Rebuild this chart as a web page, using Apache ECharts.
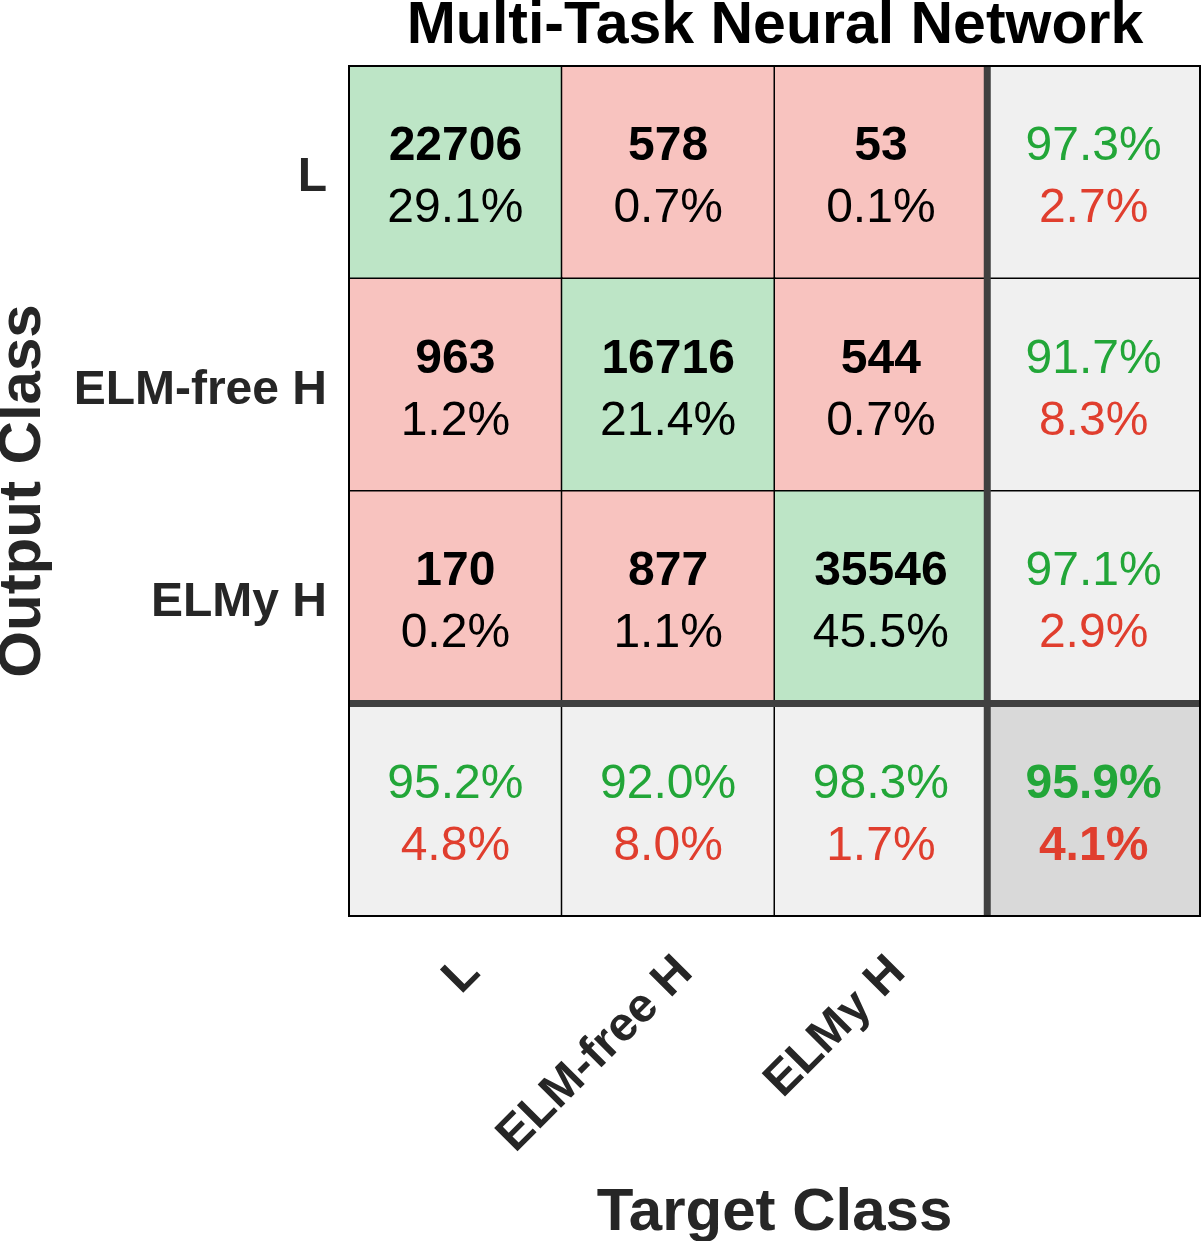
<!DOCTYPE html>
<html>
<head>
<meta charset="utf-8">
<script src="https://cdn.jsdelivr.net/npm/echarts@6/dist/echarts.min.js"></script>
<style>
  html, body { margin: 0; padding: 0; background: #fff; }
  #chart { width: 1201px; height: 1241px; }
</style>
</head>
<body>
<div id="chart"></div>
<script>
(function () {

    var classes = ['L', 'ELM-free H', 'ELMy H'];
    // rows = output class, columns = target class
    var counts = [
        [22706, 578, 53],
        [963, 16716, 544],
        [170, 877, 35546]
    ];
    var cellPct = [
        [29.1, 0.7, 0.1],
        [1.2, 21.4, 0.7],
        [0.2, 1.1, 45.5]
    ];
    var rowCorrect = [97.3, 91.7, 97.1];
    var rowWrong = [2.7, 8.3, 2.9];
    var colCorrect = [95.2, 92.0, 98.3];
    var colWrong = [4.8, 8.0, 1.7];
    var totalCorrect = 95.9;
    var totalWrong = 4.1;

    var GREEN_BG = '#bde5c6', RED_BG = '#f8c3bf', GRAY_BG = '#f0f0f0', DARK_BG = '#d9d9d9';
    var GREEN_TX = '#22a638', RED_TX = '#e03e2e';
    var FONT = 'Liberation Sans, Arial, sans-serif';

    var rich = {
        b: { fontFamily: FONT, fontSize: 48, fontWeight: 'bold', color: '#000', lineHeight: 62 },
        n: { fontFamily: FONT, fontSize: 48, color: '#000', lineHeight: 62 },
        g: { fontFamily: FONT, fontSize: 48, color: GREEN_TX, lineHeight: 62 },
        r: { fontFamily: FONT, fontSize: 48, color: RED_TX, lineHeight: 62 },
        gb: { fontFamily: FONT, fontSize: 48, fontWeight: 'bold', color: GREEN_TX, lineHeight: 62 },
        rb: { fontFamily: FONT, fontSize: 48, fontWeight: 'bold', color: RED_TX, lineHeight: 62 }
    };

    var data = [];
    for (var i = 0; i < 3; i++) {
        for (var j = 0; j < 3; j++) {
            data.push({
                value: [j, i, counts[i][j]],
                itemStyle: { color: i === j ? GREEN_BG : RED_BG },
                label: { formatter: '{b|' + counts[i][j] + '}\n{n|' + cellPct[i][j].toFixed(1) + '%}' }
            });
        }
        data.push({
            value: [3, i, rowCorrect[i]],
            itemStyle: { color: GRAY_BG },
            label: { formatter: '{g|' + rowCorrect[i].toFixed(1) + '%}\n{r|' + rowWrong[i].toFixed(1) + '%}' }
        });
    }
    for (var k = 0; k < 3; k++) {
        data.push({
            value: [k, 3, colCorrect[k]],
            itemStyle: { color: GRAY_BG },
            label: { formatter: '{g|' + colCorrect[k].toFixed(1) + '%}\n{r|' + colWrong[k].toFixed(1) + '%}' }
        });
    }
    data.push({
        value: [3, 3, totalCorrect],
        itemStyle: { color: DARK_BG },
        label: { formatter: '{gb|' + totalCorrect.toFixed(1) + '%}\n{rb|' + totalWrong.toFixed(1) + '%}' }
    });

    var option = {
        animation: false,
        backgroundColor: '#fff',
        title: {
            text: 'Multi-Task Neural Network',
            left: 770,
            top: -8,
            textAlign: 'center',
            textStyle: { fontFamily: FONT, fontSize: 59, fontWeight: 'bold', color: '#000' }
        },
        grid: { left: 349, right: 1, top: 66, bottom: 325, outerBoundsMode: 'none', containLabel: false },
        xAxis: {
            type: 'category',
            data: classes.concat(['']),
            axisLine: { show: false },
            axisTick: { show: false },
            splitLine: { show: false },
            axisLabel: {
                rotate: 45,
                margin: 32,
                verticalAlign: 'top',
                fontFamily: FONT, fontSize: 48, fontWeight: 'bold', color: '#262626'
            },
            name: 'Target Class',
            nameLocation: 'middle',
            nameGap: 267,
            nameTextStyle: { fontFamily: FONT, fontSize: 60, fontWeight: 'bold', color: '#262626' }
        },
        yAxis: {
            type: 'category',
            inverse: true,
            data: classes.concat(['']),
            axisLine: { show: false },
            axisTick: { show: false },
            splitLine: { show: false },
            axisLabel: {
                margin: 22,
                formatter: function (v) { return v ? '{y|' + v + '}' : ''; },
                rich: {
                    y: { fontFamily: FONT, fontSize: 48, fontWeight: 'bold', color: '#262626', padding: [12, 0, 0, 0] }
                }
            },
            name: 'Output Class',
            nameLocation: 'middle',
            nameGap: 296,
            nameRotate: 90,
            nameTextStyle: { fontFamily: FONT, fontSize: 60, fontWeight: 'bold', color: '#262626' }
        },
        series: [
            {
                type: 'heatmap',
                data: data,
                itemStyle: { borderColor: '#000', borderWidth: 1.5 },
                label: { show: true, rich: rich, lineHeight: 62, offset: [0, 6] },
                emphasis: { disabled: true }
            },
            {
                // thick separators before the summary row / column
                type: 'custom',
                data: [[3, 3]],
                silent: true,
                z: 5,
                renderItem: function (params, api) {
                    var c = api.coord([api.value(0), api.value(1)]);
                    var s = api.size([1, 1]);
                    var x0 = api.coord([0, 0])[0] - s[0] / 2;
                    var y0 = api.coord([0, 0])[1] - s[1] / 2;
                    var lx = c[0] - s[0] / 2;
                    var ly = c[1] - s[1] / 2;
                    var x1 = c[0] + s[0] / 2;
                    var y1 = c[1] + s[1] / 2;
                    var st = { stroke: '#404040', lineWidth: 7 };
                    return {
                        type: 'group',
                        children: [
                            { type: 'line', shape: { x1: lx, y1: y0, x2: lx, y2: y1 }, style: st },
                            { type: 'line', shape: { x1: x0, y1: ly, x2: x1, y2: ly }, style: st },
                            { type: 'rect', shape: { x: x0, y: y0, width: x1 - x0, height: y1 - y0 },
                              style: { fill: 'none', stroke: '#000', lineWidth: 2 } }
                        ]
                    };
                }
            }
        ]
    };

    var myChart = echarts.init(document.getElementById('chart'));
    myChart.setOption(option);

})();
</script>
</body>
</html>
